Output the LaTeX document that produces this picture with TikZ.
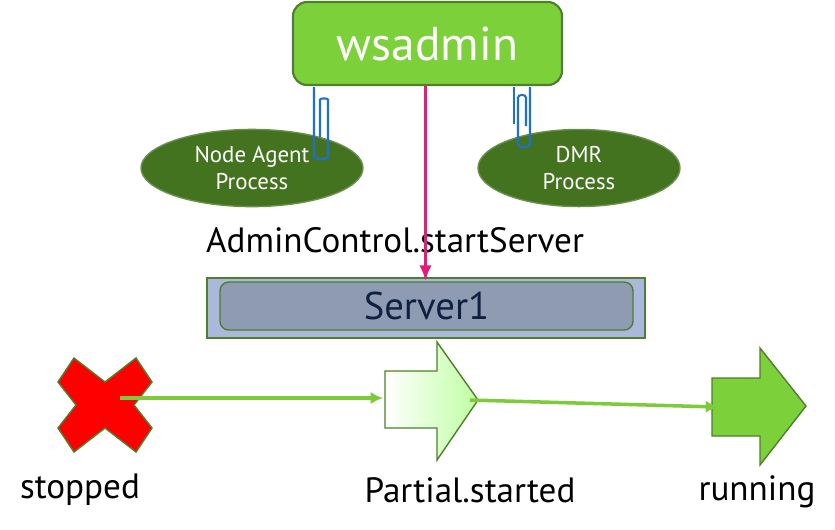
\documentclass[tikz,border=0pt]{standalone}
\usepackage{fontspec}
\setmainfont{PT Sans}
\usepackage{tikz}
\usetikzlibrary{arrows.meta,shapes.geometric}
\definecolor{wsgreen}{HTML}{7CD13A}
\definecolor{wsedge}{HTML}{4E7F2A}
\definecolor{procgreen}{HTML}{44731F}
\definecolor{srvblue}{HTML}{AAB8DC}
\definecolor{srvinner}{HTML}{8F9BB3}
\definecolor{srvtext}{HTML}{102040}
\definecolor{callpink}{HTML}{E8197A}
\definecolor{clipblue}{HTML}{1E6FD0}
\definecolor{flowgreen}{HTML}{7CCB3A}
\tikzset{
  proc/.style={ellipse, fill=procgreen, draw=procgreen!80!white, thick, text=white,
               font=\fontsize{13}{15}\selectfont, align=center},
  state/.style={font=\fontsize{20}{21}\selectfont},
  flow/.style={draw=flowgreen, line width=2pt, -{Latex[length=7pt,width=7pt]}},
  paperclip/.style={draw=clipblue, line width=1.2pt, rounded corners=2.5pt},
}
\begin{document}
\begin{tikzpicture}[x=0.02cm, y=-0.02cm]
        \useasboundingbox (0,0) rectangle (835,529);
        % wsadmin box
        \node [draw=wsedge, very thick, fill=wsgreen, rounded corners=8pt, text=white,
               minimum width=269*0.02cm, minimum height=83*0.02cm,
               font=\fontsize{27}{28}\selectfont] (ws) at (427.5,43.5) {wsadmin};
        % processes
        \node [proc, minimum width=222*0.02cm, minimum height=72*0.02cm] (na)  at (252,168) {Node Agent\\Process};
        \node [proc, minimum width=202*0.02cm, minimum height=72*0.02cm] (dmr) at (579,168) {DMR\\Process};
        % paper clips
        \draw [paperclip] (314,87) -- (314,152) .. controls (314,160) and (328,160) .. (328,152)
                     -- (328,104) .. controls (328,98) and (320,98) .. (320,104) -- (320,137);
        \draw [paperclip] (514,87) -- (514,124) ;
        \draw [paperclip] (530,87) -- (530,140) .. controls (530,148) and (518,148) .. (518,140)
                     -- (518,102) .. controls (518,94) and (526,94) .. (526,102) -- (526,126);
        % call
        \node [font=\fontsize{20}{21}\selectfont] (call) at (395,240) {AdminControl.startServer};
        % server
        \draw [draw=wsedge, thick, fill=srvblue] (207,278) rectangle (645,338);
        \node [draw=wsedge, thick, fill=srvinner, rounded corners=5pt, text=srvtext,
               minimum width=413*0.02cm, minimum height=48*0.02cm,
               font=\fontsize{22}{23}\selectfont] (srv) at (426.5,306) {Server1};
        \draw [callpink, line width=2pt, -{Latex[length=9pt,width=7pt]}] (ws.south) ++(-2,0) coordinate (wsb) -- (wsb |- srv.north);
        % stopped cross
        \coordinate (stop) at (120,398);
        \fill [red, draw=wsedge, thick] (58,382) -- (74,358) -- (105,382) -- (136,358) -- (152,382)
              -- (134,405) -- (152,428) -- (136,452) -- (105,428) -- (74,452) -- (58,428) -- (76,405) -- cycle;
        % partial arrow
        \shade [left color=white, right color=green!25!white!85!lime] (385,371) -- (437,371) -- (437,342) -- (478,400)
              -- (437,460) -- (437,428) -- (385,428) -- cycle;
        \draw [wsedge, thick] (385,371) -- (437,371) -- (437,342) -- (478,400)
              -- (437,460) -- (437,428) -- (385,428) -- cycle;
        \coordinate (part-in) at (383,398);
        \coordinate (part-out) at (470,400);
        % running arrow
        \draw [wsedge, thick, fill=wsgreen] (712,378) -- (760,378) -- (760,348) -- (806,406)
              -- (760,465) -- (760,436) -- (712,436) -- cycle;
        \coordinate (run-in) at (718,407);
        % flows
        \draw [flow] (stop) -- (part-in);
        \draw [flow] (part-out) -- (run-in);
        % state labels
        \node [state] (lstop) at (80,490) {stopped};
        \node [state] (lpart) at (470,490) {Partial.started};
        \node [state] (lrun)  at (757,492) {running};
\end{tikzpicture}
\end{document}
